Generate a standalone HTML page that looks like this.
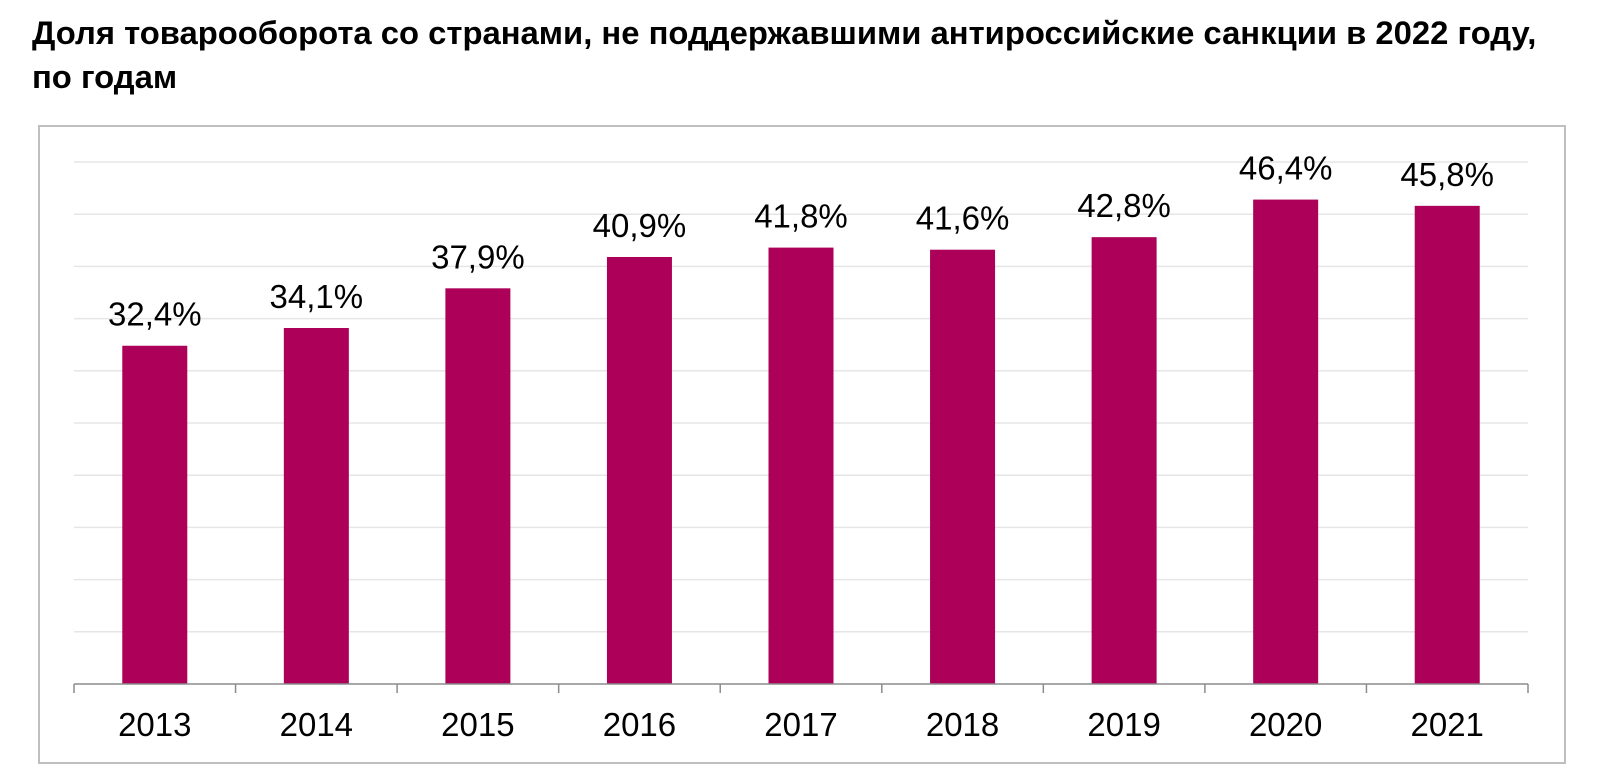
<!DOCTYPE html>
<html><head><meta charset="utf-8"><style>
body{margin:0;width:1600px;height:783px;background:#fff;font-family:"Liberation Sans",Arial,sans-serif;overflow:hidden}
.title{position:absolute;left:32px;top:11px;font-size:32.8px;font-weight:bold;line-height:44px;color:#000;white-space:nowrap}
</style></head><body>
<div class="title">Доля товарооборота со странами, не поддержавшими антироссийские санкции в 2022 году,<br>по годам</div>
<svg id="chart" width="1600" height="783" style="position:absolute;left:0;top:0">
<rect x="39" y="126" width="1526" height="637" fill="none" stroke="#bfbfbf" stroke-width="2"/>
</svg>
<script>
const categories=["2013","2014","2015","2016","2017","2018","2019","2020","2021"];
const values=[32.4,34.1,37.9,40.9,41.8,41.6,42.8,46.4,45.8];
const valueLabels=["32,4%","34,1%","37,9%","40,9%","41,8%","41,6%","42,8%","46,4%","45,8%"];
const gridValues=[5,10,15,20,25,30,35,40,45,50];
const svg=document.getElementById('chart');const NS='http://www.w3.org/2000/svg';
const x0=74,x1=1528,y0=684,yTop=162,vmax=50;
const band=(x1-x0)/categories.length;
const y=v=>y0-(v/vmax)*(y0-yTop);
const xc=i=>x0+band*(i+0.5);
function mk(t,a){const e=document.createElementNS(NS,t);for(const k in a)e.setAttribute(k,a[k]);svg.appendChild(e);return e;}
gridValues.forEach(g=>{
const l=mk('line',{x1:x0,x2:x1,y1:y(g),y2:y(g),stroke:'#e6e6e6','stroke-width':1.5});


});
categories.forEach((c,i)=>{
const r=mk('rect',{x:xc(i)-32.5,y:y(values[i]),width:65,height:y0-y(values[i]),fill:'#ad0059'});


const t=mk('text',{x:xc(i),y:y(values[i])-20,'text-anchor':'middle','font-size':33,fill:'#000'});
t.textContent=valueLabels[i];


const xl=mk('text',{x:xc(i),y:y0+52,'text-anchor':'middle','font-size':33,fill:'#000'});
xl.textContent=c;


});
for(let i=0;i<=categories.length;i++){
const tk=mk('line',{x1:x0+band*i,x2:x0+band*i,y1:y0,y2:y0+9,stroke:'#8c8c8c','stroke-width':1.5});


}
const ax=mk('line',{x1:x0,x2:x1,y1:y0,y2:y0,stroke:'#8c8c8c','stroke-width':1.5});


</script>
</body></html>
